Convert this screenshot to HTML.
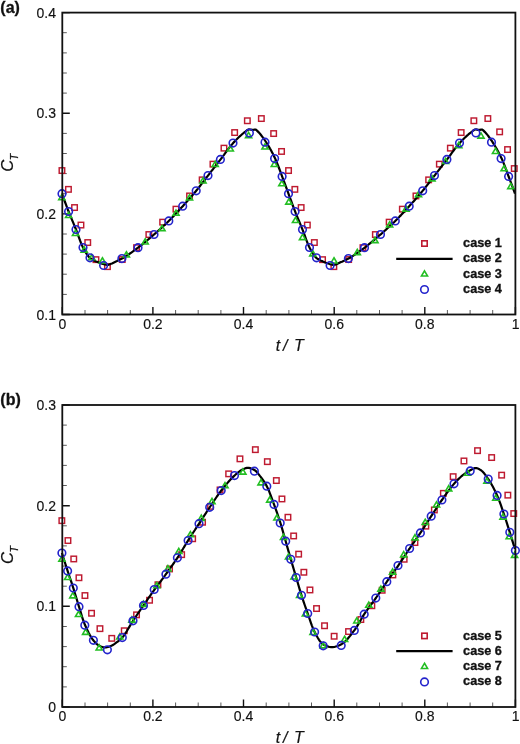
<!DOCTYPE html>
<html><head><meta charset="utf-8"><title>C_T vs t/T</title>
<style>
html,body{margin:0;padding:0;background:#fff}
svg{display:block}
text{font-family:"Liberation Sans",Arial,Helvetica,sans-serif;fill:#111}
.tk{font-size:14px;stroke:#111;stroke-width:0.15px}
.ax{font-size:16px;font-style:italic;stroke:#111;stroke-width:0.2px}
.pl{font-size:16px;font-weight:bold;stroke:#111;stroke-width:0.3px}
.lg{font-size:12px;font-weight:bold;stroke:#111;stroke-width:0.3px}
</style></head><body>
<svg width="520" height="744" viewBox="0 0 520 744">
<rect width="520" height="744" fill="#fff"/>
<clipPath id="ca"><rect x="56.3" y="12.6" width="465.09999999999997" height="301.9"/></clipPath><path d="M62.3 294.4h4.5M62.3 274.2h4.5M62.3 254.1h4.5M62.3 234h4.5M62.3 193.7h4.5M62.3 173.6h4.5M62.3 153.5h4.5M62.3 133.4h4.5M62.3 93.1h4.5M62.3 73h4.5M62.3 52.9h4.5M62.3 32.7h4.5M85 314.5v-4.5M107.6 314.5v-4.5M130.3 314.5v-4.5M175.6 314.5v-4.5M198.2 314.5v-4.5M220.9 314.5v-4.5M266.2 314.5v-4.5M288.9 314.5v-4.5M311.5 314.5v-4.5M356.8 314.5v-4.5M379.5 314.5v-4.5M402.1 314.5v-4.5M447.4 314.5v-4.5M470.1 314.5v-4.5M492.7 314.5v-4.5" stroke="#4a4a4a" stroke-width="0.9" fill="none"/><path d="M62.3 314.5h7.5M62.3 213.9h7.5M62.3 113.2h7.5M62.3 12.6h7.5M62.3 314.5v-7.5M152.9 314.5v-7.5M243.5 314.5v-7.5M334.2 314.5v-7.5M424.8 314.5v-7.5M515.4 314.5v-7.5" stroke="#111" stroke-width="1.4" fill="none"/><g clip-path="url(#ca)"><g fill="none" stroke="#be1a30" stroke-width="1.45"><rect x="59.2" y="167.8" width="5.5" height="5.5"/><rect x="65.7" y="186.6" width="5.5" height="5.5"/><rect x="71.8" y="204.8" width="5.5" height="5.5"/><rect x="78.2" y="222.3" width="5.5" height="5.5"/><rect x="85" y="239.8" width="5.5" height="5.5"/><rect x="93.2" y="256.9" width="5.5" height="5.5"/><rect x="104.7" y="263.9" width="5.5" height="5.5"/><rect x="119.5" y="256.8" width="5.5" height="5.5"/><rect x="133.8" y="244.9" width="5.5" height="5.5"/><rect x="146.1" y="231.8" width="5.5" height="5.5"/><rect x="159.9" y="219.4" width="5.5" height="5.5"/><rect x="173.2" y="206.4" width="5.5" height="5.5"/><rect x="186.8" y="193.2" width="5.5" height="5.5"/><rect x="199.4" y="177.1" width="5.5" height="5.5"/><rect x="210.2" y="161.4" width="5.5" height="5.5"/><rect x="221.2" y="145.4" width="5.5" height="5.5"/><rect x="231.9" y="129.8" width="5.5" height="5.5"/><rect x="244.6" y="118" width="5.5" height="5.5"/><rect x="258.6" y="115.8" width="5.5" height="5.5"/><rect x="270.9" y="130.8" width="5.5" height="5.5"/><rect x="278.8" y="148.7" width="5.5" height="5.5"/><rect x="285.8" y="167.8" width="5.5" height="5.5"/><rect x="292.1" y="186.6" width="5.5" height="5.5"/><rect x="298.4" y="204.8" width="5.5" height="5.5"/><rect x="304.6" y="222.3" width="5.5" height="5.5"/><rect x="311.6" y="239.8" width="5.5" height="5.5"/><rect x="319.8" y="256.9" width="5.5" height="5.5"/><rect x="331.1" y="263.9" width="5.5" height="5.5"/><rect x="345.9" y="256.8" width="5.5" height="5.5"/><rect x="360.2" y="244.9" width="5.5" height="5.5"/><rect x="372.6" y="231.8" width="5.5" height="5.5"/><rect x="386.4" y="219.4" width="5.5" height="5.5"/><rect x="399.6" y="206.4" width="5.5" height="5.5"/><rect x="413.2" y="193.2" width="5.5" height="5.5"/><rect x="425.9" y="177.1" width="5.5" height="5.5"/><rect x="436.6" y="161.4" width="5.5" height="5.5"/><rect x="447.6" y="145.4" width="5.5" height="5.5"/><rect x="458.4" y="129.8" width="5.5" height="5.5"/><rect x="471.1" y="118" width="5.5" height="5.5"/><rect x="485.1" y="115.8" width="5.5" height="5.5"/><rect x="496.9" y="129.1" width="5.5" height="5.5"/><rect x="504.8" y="146.8" width="5.5" height="5.5"/><rect x="511.5" y="165.8" width="5.5" height="5.5"/></g><path d="M62 193.7 L63 196.5 L64 199.3 L65 202 L66 204.7 L67 207.3 L68 210 L69 212.5 L70 215 L71 217.4 L72 219.8 L73 222.2 L74 224.6 L75 227 L76 229.5 L77 232.1 L78 234.8 L79 237.6 L80 240.4 L81 243 L82 245.4 L83 247.5 L84 249.4 L85 251.2 L86 252.9 L87 254.5 L88 255.8 L89 257 L90 258 L91 258.7 L92 259.4 L93 259.9 L94 260.4 L95 260.9 L96 261.4 L97 261.8 L98 262.2 L99 262.6 L100 263 L101 263.3 L102 263.6 L103 263.9 L104 264.2 L105 264.5 L106 264.7 L107 264.9 L108 264.9 L109 264.6 L110 264.2 L111 263.8 L112 263.4 L113 262.9 L114 262.4 L115 261.9 L116 261.4 L117 261 L118 260.5 L119 260.1 L120 259.6 L121 259.1 L122 258.5 L123 258 L124 257.4 L125 256.8 L126 256.2 L127 255.5 L128 254.9 L129 254.2 L130 253.5 L131 252.8 L132 252.1 L133 251.4 L134 250.7 L135 249.9 L136 249.2 L137 248.4 L138 247.7 L139 246.9 L140 246.2 L141 245.4 L142 244.6 L143 243.8 L144 243 L145 242.2 L146 241.4 L147 240.5 L148 239.7 L149 238.8 L150 238 L151 237.1 L152 236.2 L153 235.4 L154 234.5 L155 233.6 L156 232.8 L157 231.9 L158 231 L159 230.1 L160 229.2 L161 228.3 L162 227.4 L163 226.4 L164 225.5 L165 224.6 L166 223.6 L167 222.7 L168 221.7 L169 220.7 L170 219.7 L171 218.7 L172 217.7 L173 216.6 L174 215.6 L175 214.5 L176 213.5 L177 212.4 L178 211.3 L179 210.2 L180 209.2 L181 208.1 L182 207 L183 205.9 L184 204.8 L185 203.7 L186 202.6 L187 201.4 L188 200.3 L189 199.2 L190 198.1 L191 196.9 L192 195.8 L193 194.6 L194 193.4 L195 192.2 L196 191 L197 189.8 L198 188.6 L199 187.3 L200 186 L201 184.7 L202 183.4 L203 182.1 L204 180.8 L205 179.5 L206 178.2 L207 176.9 L208 175.6 L209 174.3 L210 173 L211 171.7 L212 170.4 L213 169.2 L214 167.9 L215 166.6 L216 165.3 L217 164 L218 162.7 L219 161.4 L220 160.1 L221 158.8 L222 157.5 L223 156.1 L224 154.8 L225 153.4 L226 152.1 L227 150.7 L228 149.4 L229 148.1 L230 146.8 L231 145.5 L232 144.4 L233 143.2 L234 142.1 L235 141.1 L236 140 L237 139 L238 138 L239 137 L240 136.1 L241 135.2 L242 134.3 L243 133.5 L244 132.7 L245 132 L246 131.1 L247 130.3 L248 129.7 L249 129.4 L250 129.5 L251 129.7 L252 129.9 L253 129.8 L254 129.7 L255 129.5 L256 129.7 L257 130.6 L258 131.6 L259 132.6 L260 133.8 L261 135 L262 136.3 L263 137.6 L264 139 L265 140.5 L266 142 L267 143.6 L268 145.2 L269 146.8 L270 148.6 L271 150.3 L272 152.2 L273 154.1 L274 156.2 L275 158.3 L276 160.4 L277 162.8 L278 165.3 L279 168 L280 170.7 L281 173.4 L282 176.1 L283 178.8 L284 181.5 L285 184.2 L286 186.9 L287 189.6 L288 192.3 L289 195.1 L290 197.8 L291 200.5 L292 203.3 L293 206 L294 208.6 L295 211.2 L296 213.8 L297 216.2 L298 218.6 L299 221 L300 223.4 L301 225.8 L302 228.3 L303 230.8 L304 233.5 L305 236.2 L306 239 L307 241.7 L308 244.3 L309 246.5 L310 248.4 L311 250.3 L312 252 L313 253.7 L314 255.2 L315 256.5 L316 257.6 L317 258.4 L318 259.1 L319 259.6 L320 260.1 L321 260.7 L322 261.1 L323 261.6 L324 262 L325 262.4 L326 262.8 L327 263.1 L328 263.5 L329 263.8 L330 264.1 L331 264.3 L332 264.6 L333 264.8 L334 264.9 L335 264.7 L336 264.4 L337 264 L338 263.6 L339 263.1 L340 262.6 L341 262.1 L342 261.7 L343 261.2 L344 260.8 L345 260.3 L346 259.8 L347 259.3 L348 258.8 L349 258.3 L350 257.7 L351 257.1 L352 256.5 L353 255.9 L354 255.2 L355 254.5 L356 253.9 L357 253.2 L358 252.5 L359 251.7 L360 251 L361 250.3 L362 249.6 L363 248.8 L364 248.1 L365 247.3 L366 246.6 L367 245.8 L368 245 L369 244.2 L370 243.4 L371 242.6 L372 241.8 L373 240.9 L374 240.1 L375 239.2 L376 238.4 L377 237.5 L378 236.7 L379 235.8 L380 234.9 L381 234.1 L382 233.2 L383 232.3 L384 231.4 L385 230.5 L386 229.6 L387 228.7 L388 227.8 L389 226.9 L390 226 L391 225 L392 224.1 L393 223.1 L394 222.2 L395 221.2 L396 220.2 L397 219.2 L398 218.2 L399 217.2 L400 216.1 L401 215.1 L402 214 L403 212.9 L404 211.9 L405 210.8 L406 209.7 L407 208.6 L408 207.5 L409 206.4 L410 205.3 L411 204.2 L412 203.1 L413 202 L414 200.9 L415 199.8 L416 198.6 L417 197.5 L418 196.3 L419 195.2 L420 194 L421 192.8 L422 191.6 L423 190.4 L424 189.2 L425 188 L426 186.7 L427 185.4 L428 184.1 L429 182.8 L430 181.5 L431 180.2 L432 178.9 L433 177.5 L434 176.2 L435 175 L436 173.7 L437 172.4 L438 171.1 L439 169.8 L440 168.5 L441 167.2 L442 165.9 L443 164.6 L444 163.3 L445 162.1 L446 160.8 L447 159.5 L448 158.2 L449 156.8 L450 155.5 L451 154.1 L452 152.7 L453 151.4 L454 150 L455 148.7 L456 147.4 L457 146.2 L458 144.9 L459 143.8 L460 142.7 L461 141.6 L462 140.5 L463 139.5 L464 138.5 L465 137.5 L466 136.6 L467 135.6 L468 134.8 L469 133.9 L470 133.1 L471 132.4 L472 131.6 L473 130.7 L474 130 L475 129.5 L476 129.4 L477 129.6 L478 129.8 L479 129.9 L480 129.8 L481 129.6 L482 129.5 L483 130.1 L484 131.1 L485 132.1 L486 133.2 L487 134.4 L488 135.6 L489 137 L490 138.3 L491 139.8 L492 141.2 L493 142.8 L494 144.4 L495 146 L496 147.7 L497 149.4 L498 151.3 L499 153.2 L500 155.1 L501 157.2 L502 159.3 L503 161.6 L504 164.1 L505 166.7 L506 169.3 L507 172.1 L508 174.8 L509 177.5 L510 180.1 L511 182.8 L512 185.5 L513 188.2 L514 191 L515 193.7" fill="none" stroke="#000" stroke-width="2.2" stroke-linejoin="round"/><g fill="none" stroke="#22be22" stroke-width="1.6"><path d="M61.8 194.55L64.85 199.75H58.75Z"/><path d="M68.6 212.35L71.65 217.55H65.55Z"/><path d="M75.5 230.25L78.55 235.45H72.45Z"/><path d="M84.2 246.95L87.25 252.15H81.15Z"/><path d="M91.8 254.55L94.85 259.75H88.75Z"/><path d="M102.4 257.75L105.45 262.95H99.35Z"/><path d="M126.4 251.75L129.45 256.95H123.35Z"/><path d="M145.2 238.75L148.25 243.95H142.15Z"/><path d="M162 225.45L165.05 230.65H158.95Z"/><path d="M176 210.05L179.05 215.25H172.95Z"/><path d="M189.5 194.75L192.55 199.95H186.45Z"/><path d="M203 177.75L206.05 182.95H199.95Z"/><path d="M215.2 161.25L218.25 166.45H212.15Z"/><path d="M230.3 145.75L233.35 150.95H227.25Z"/><path d="M248.6 132.45L251.65 137.65H245.55Z"/><path d="M265 143.85L268.05 149.05H261.95Z"/><path d="M274.3 161.25L277.35 166.45H271.25Z"/><path d="M281.8 180.55L284.85 185.75H278.75Z"/><path d="M288.8 198.95L291.85 204.15H285.75Z"/><path d="M295.5 217.35L298.55 222.55H292.45Z"/><path d="M302.5 234.45L305.55 239.65H299.45Z"/><path d="M312.8 250.65L315.85 255.85H309.75Z"/><path d="M334 257.75L337.05 262.95H330.95Z"/><path d="M357.3 249.45L360.35 254.65H354.25Z"/><path d="M375 237.45L378.05 242.65H371.95Z"/><path d="M389.6 221.75L392.65 226.95H386.55Z"/><path d="M406 205.95L409.05 211.15H402.95Z"/><path d="M418.5 191.55L421.55 196.75H415.45Z"/><path d="M432 175.65L435.05 180.85H428.95Z"/><path d="M445.6 158.35L448.65 163.55H442.55Z"/><path d="M458.8 142.45L461.85 147.65H455.75Z"/><path d="M481 132.95L484.05 138.15H477.95Z"/><path d="M495.5 148.25L498.55 153.45H492.45Z"/><path d="M504.1 165.55L507.15 170.75H501.05Z"/><path d="M510.8 183.45L513.85 188.65H507.75Z"/></g><g fill="none" stroke="#2424cc" stroke-width="1.6"><circle cx="62" cy="193.7" r="3.8"/><circle cx="68.6" cy="211.5" r="3.8"/><circle cx="76" cy="229.5" r="3.8"/><circle cx="83" cy="247.5" r="3.8"/><circle cx="90" cy="257.8" r="3.8"/><circle cx="103.6" cy="265.5" r="3.8"/><circle cx="121.9" cy="258.6" r="3.8"/><circle cx="138" cy="247.7" r="3.8"/><circle cx="154" cy="234.5" r="3.8"/><circle cx="168.8" cy="220.9" r="3.8"/><circle cx="182.7" cy="206.2" r="3.8"/><circle cx="196.2" cy="190.8" r="3.8"/><circle cx="208" cy="175.6" r="3.8"/><circle cx="220.4" cy="159.4" r="3.8"/><circle cx="233" cy="143.1" r="3.8"/><circle cx="249.4" cy="133" r="3.8"/><circle cx="265" cy="142.2" r="3.8"/><circle cx="274.6" cy="158.6" r="3.8"/><circle cx="282.1" cy="176.4" r="3.8"/><circle cx="288.5" cy="193.7" r="3.8"/><circle cx="295.1" cy="211.5" r="3.8"/><circle cx="302.5" cy="229.5" r="3.8"/><circle cx="309.5" cy="247.5" r="3.8"/><circle cx="316.5" cy="257.8" r="3.8"/><circle cx="330.1" cy="265.5" r="3.8"/><circle cx="348.4" cy="258.6" r="3.8"/><circle cx="364.5" cy="247.7" r="3.8"/><circle cx="380.5" cy="234.5" r="3.8"/><circle cx="395.3" cy="220.9" r="3.8"/><circle cx="409.2" cy="206.2" r="3.8"/><circle cx="422.7" cy="190.8" r="3.8"/><circle cx="434.5" cy="175.6" r="3.8"/><circle cx="446.9" cy="159.4" r="3.8"/><circle cx="459.5" cy="143.1" r="3.8"/><circle cx="475.9" cy="133" r="3.8"/><circle cx="491.5" cy="142.2" r="3.8"/><circle cx="501.1" cy="158.6" r="3.8"/><circle cx="508.6" cy="176.4" r="3.8"/></g></g><rect x="62.3" y="12.6" width="453.1" height="301.9" fill="none" stroke="#111" stroke-width="1.8"/><text x="56" y="319.6" text-anchor="end" class="tk">0.1</text><text x="56" y="219" text-anchor="end" class="tk">0.2</text><text x="56" y="118.3" text-anchor="end" class="tk">0.3</text><text x="56" y="17.7" text-anchor="end" class="tk">0.4</text><text x="62.3" y="328.5" text-anchor="middle" class="tk">0</text><text x="152.9" y="328.5" text-anchor="middle" class="tk">0.2</text><text x="243.5" y="328.5" text-anchor="middle" class="tk">0.4</text><text x="334.2" y="328.5" text-anchor="middle" class="tk">0.6</text><text x="424.8" y="328.5" text-anchor="middle" class="tk">0.8</text><text x="515.7" y="328.5" text-anchor="middle" class="tk">1</text><text transform="translate(13.45 171.7) rotate(-90)" class="ax" style="font-size:16.6px">C<tspan dx="-0.5" dy="5" style="font-size:10.6px">T</tspan></text><text x="275.7" y="351.4" class="ax">t<tspan dx="-1.7"> /</tspan><tspan dx="2.2"> T</tspan></text><text x="0.3" y="12.7" class="pl">(a)</text><g fill="none" stroke-width="1.6"><rect x="421.8" y="240.8" width="5.4" height="5.4" stroke="#be1a30"/><g stroke="#22be22"><path d="M424.5 270.85L427.55 276.05H421.45Z"/></g><circle cx="424.5" cy="289.5" r="3.8" stroke="#2424cc"/></g><path d="M396.2 258.8H452.6" stroke="#000" stroke-width="2.2"/><text x="463.1" y="247.4" class="lg" textLength="38.8" lengthAdjust="spacingAndGlyphs">case 1</text><text x="463.1" y="262.4" class="lg" textLength="38.8" lengthAdjust="spacingAndGlyphs">case 2</text><text x="463.1" y="277.5" class="lg" textLength="38.8" lengthAdjust="spacingAndGlyphs">case 3</text><text x="463.1" y="292.6" class="lg" textLength="38.8" lengthAdjust="spacingAndGlyphs">case 4</text><clipPath id="cb"><rect x="56.3" y="405.0" width="465.09999999999997" height="302.0"/></clipPath><path d="M62.3 686.9h4.5M62.3 666.7h4.5M62.3 646.6h4.5M62.3 626.5h4.5M62.3 586.2h4.5M62.3 566.1h4.5M62.3 545.9h4.5M62.3 525.8h4.5M62.3 485.5h4.5M62.3 465.4h4.5M62.3 445.3h4.5M62.3 425.1h4.5M85 707v-4.5M107.6 707v-4.5M130.3 707v-4.5M175.6 707v-4.5M198.2 707v-4.5M220.9 707v-4.5M266.2 707v-4.5M288.9 707v-4.5M311.5 707v-4.5M356.8 707v-4.5M379.5 707v-4.5M402.1 707v-4.5M447.4 707v-4.5M470.1 707v-4.5M492.7 707v-4.5" stroke="#4a4a4a" stroke-width="0.9" fill="none"/><path d="M62.3 707h7.5M62.3 606.3h7.5M62.3 505.7h7.5M62.3 405h7.5M62.3 707v-7.5M152.9 707v-7.5M243.5 707v-7.5M334.2 707v-7.5M424.8 707v-7.5M515.4 707v-7.5" stroke="#111" stroke-width="1.4" fill="none"/><g clip-path="url(#cb)"><g fill="none" stroke="#be1a30" stroke-width="1.45"><rect x="59.1" y="517.9" width="5.5" height="5.5"/><rect x="65.2" y="537.8" width="5.5" height="5.5"/><rect x="71" y="556.2" width="5.5" height="5.5"/><rect x="76.2" y="575" width="5.5" height="5.5"/><rect x="82.2" y="592.8" width="5.5" height="5.5"/><rect x="88.8" y="610.5" width="5.5" height="5.5"/><rect x="97.2" y="625.9" width="5.5" height="5.5"/><rect x="109" y="635.6" width="5.5" height="5.5"/><rect x="121.5" y="628" width="5.5" height="5.5"/><rect x="133.8" y="612.1" width="5.5" height="5.5"/><rect x="146.8" y="597.5" width="5.5" height="5.5"/><rect x="155.2" y="582" width="5.5" height="5.5"/><rect x="166.8" y="566.2" width="5.5" height="5.5"/><rect x="178.9" y="551.9" width="5.5" height="5.5"/><rect x="189.9" y="536" width="5.5" height="5.5"/><rect x="199.8" y="519.5" width="5.5" height="5.5"/><rect x="207.8" y="503.6" width="5.5" height="5.5"/><rect x="217.3" y="487.2" width="5.5" height="5.5"/><rect x="225.9" y="471.1" width="5.5" height="5.5"/><rect x="237.2" y="456.1" width="5.5" height="5.5"/><rect x="252.6" y="446.9" width="5.5" height="5.5"/><rect x="264.6" y="458.9" width="5.5" height="5.5"/><rect x="273.6" y="477.8" width="5.5" height="5.5"/><rect x="279.2" y="496.2" width="5.5" height="5.5"/><rect x="285.2" y="514.5" width="5.5" height="5.5"/><rect x="290.9" y="533.2" width="5.5" height="5.5"/><rect x="295.9" y="551.4" width="5.5" height="5.5"/><rect x="301.1" y="569.5" width="5.5" height="5.5"/><rect x="307.2" y="587.2" width="5.5" height="5.5"/><rect x="313.8" y="605.8" width="5.5" height="5.5"/><rect x="321.8" y="623" width="5.5" height="5.5"/><rect x="331.4" y="633.5" width="5.5" height="5.5"/><rect x="345.8" y="628.8" width="5.5" height="5.5"/><rect x="358.1" y="616.8" width="5.5" height="5.5"/><rect x="369.1" y="603" width="5.5" height="5.5"/><rect x="379.4" y="587.5" width="5.5" height="5.5"/><rect x="390.1" y="572.2" width="5.5" height="5.5"/><rect x="401.4" y="556.5" width="5.5" height="5.5"/><rect x="412.2" y="539.8" width="5.5" height="5.5"/><rect x="423.1" y="523.4" width="5.5" height="5.5"/><rect x="431.6" y="507.2" width="5.5" height="5.5"/><rect x="440.6" y="490.6" width="5.5" height="5.5"/><rect x="450.4" y="473.9" width="5.5" height="5.5"/><rect x="461.2" y="458.2" width="5.5" height="5.5"/><rect x="474.8" y="447.9" width="5.5" height="5.5"/><rect x="488.9" y="454.8" width="5.5" height="5.5"/><rect x="498.9" y="472.4" width="5.5" height="5.5"/><rect x="505.1" y="492.4" width="5.5" height="5.5"/><rect x="511" y="510.8" width="5.5" height="5.5"/></g><path d="M61.9 553 L62.9 556.2 L63.9 559.4 L64.9 562.5 L65.9 565.6 L66.9 568.7 L67.9 571.8 L68.9 574.8 L69.9 577.8 L70.9 580.7 L71.9 583.7 L72.9 586.8 L73.9 589.9 L74.9 593.2 L75.9 596.5 L76.9 599.8 L77.9 603.2 L78.9 606.4 L79.9 609.6 L80.9 612.9 L81.9 616.2 L82.9 619.3 L83.9 622.2 L84.9 624.8 L85.9 627 L86.9 629.2 L87.9 631.3 L88.9 633.3 L89.9 635.1 L90.9 636.8 L91.9 638.4 L92.9 639.8 L93.9 641 L94.9 642.1 L95.9 643.1 L96.9 644.1 L97.9 644.9 L98.9 645.5 L99.9 645.9 L100.9 646.4 L101.9 646.8 L102.9 647.1 L103.9 647.3 L104.9 647.4 L105.9 647.4 L106.9 647.2 L107.9 647 L108.9 646.7 L109.9 646.4 L110.9 646 L111.9 645.6 L112.9 645 L113.9 644.4 L114.9 643.7 L115.9 642.9 L116.9 642.2 L117.9 641.5 L118.9 640.7 L119.9 639.8 L120.9 638.9 L121.9 637.9 L122.9 636.8 L123.9 635.6 L124.9 634.2 L125.9 632.6 L126.9 631 L127.9 629.3 L128.9 627.6 L129.9 625.9 L130.9 624.2 L131.9 622.5 L132.9 621 L133.9 619.4 L134.9 617.9 L135.9 616.5 L136.9 615 L137.9 613.5 L138.9 612.1 L139.9 610.6 L140.9 609.2 L141.9 607.7 L142.9 606.3 L143.9 604.8 L144.9 603.4 L145.9 601.9 L146.9 600.5 L147.9 599 L148.9 597.5 L149.9 596.1 L150.9 594.7 L151.9 593.2 L152.9 591.8 L153.9 590.4 L154.9 589 L155.9 587.7 L156.9 586.3 L157.9 585 L158.9 583.6 L159.9 582.3 L160.9 581 L161.9 579.6 L162.9 578.3 L163.9 576.9 L164.9 575.6 L165.9 574.2 L166.9 572.8 L167.9 571.4 L168.9 570 L169.9 568.6 L170.9 567.2 L171.9 565.8 L172.9 564.4 L173.9 563 L174.9 561.5 L175.9 560 L176.9 558.6 L177.9 557 L178.9 555.5 L179.9 553.9 L180.9 552.3 L181.9 550.6 L182.9 549 L183.9 547.3 L184.9 545.7 L185.9 544 L186.9 542.4 L187.9 540.8 L188.9 539.2 L189.9 537.7 L190.9 536.1 L191.9 534.6 L192.9 533 L193.9 531.5 L194.9 530 L195.9 528.4 L196.9 526.9 L197.9 525.4 L198.9 523.9 L199.9 522.3 L200.9 520.8 L201.9 519.2 L202.9 517.7 L203.9 516.1 L204.9 514.6 L205.9 513.1 L206.9 511.5 L207.9 510 L208.9 508.5 L209.9 507 L210.9 505.5 L211.9 504 L212.9 502.5 L213.9 501 L214.9 499.5 L215.9 498 L216.9 496.5 L217.9 495.1 L218.9 493.7 L219.9 492.3 L220.9 491 L221.9 489.7 L222.9 488.5 L223.9 487.2 L224.9 486 L225.9 484.8 L226.9 483.6 L227.9 482.4 L228.9 481.3 L229.9 480.2 L230.9 479.1 L231.9 478.1 L232.9 477.1 L233.9 476.1 L234.9 475.2 L235.9 474.3 L236.9 473.4 L237.9 472.6 L238.9 471.8 L239.9 471 L240.9 470.4 L241.9 469.8 L242.9 469.4 L243.9 468.9 L244.9 468.5 L245.9 468.1 L246.9 467.9 L247.9 467.8 L248.9 467.9 L249.9 468.1 L250.9 468.4 L251.9 468.8 L252.9 469.2 L253.9 469.7 L254.9 470.3 L255.9 471.1 L256.9 472.2 L257.9 473.3 L258.9 474.6 L259.9 475.9 L260.9 477.1 L261.9 478.5 L262.9 479.8 L263.9 481.3 L264.9 482.9 L265.9 484.6 L266.9 486.4 L267.9 488.4 L268.9 490.7 L269.9 493.3 L270.9 495.9 L271.9 498.6 L272.9 501.4 L273.9 504.1 L274.9 506.8 L275.9 509.6 L276.9 512.4 L277.9 515.3 L278.9 518.3 L279.9 521.3 L280.9 524.5 L281.9 527.9 L282.9 531.4 L283.9 535 L284.9 538.5 L285.9 542 L286.9 545.6 L287.9 549.1 L288.9 552.6 L289.9 556.1 L290.9 559.5 L291.9 563 L292.9 566.4 L293.9 569.7 L294.9 573.1 L295.9 576.5 L296.9 579.9 L297.9 583.3 L298.9 586.7 L299.9 590.1 L300.9 593.4 L301.9 596.5 L302.9 599.6 L303.9 602.6 L304.9 605.5 L305.9 608.4 L306.9 611.2 L307.9 614.1 L308.9 617 L309.9 619.9 L310.9 622.8 L311.9 625.6 L312.9 628.2 L313.9 630.6 L314.9 632.6 L315.9 634.4 L316.9 636.3 L317.9 638 L318.9 639.6 L319.9 641.1 L320.9 642.3 L321.9 643.4 L322.9 644.1 L323.9 644.7 L324.9 645.2 L325.9 645.6 L326.9 646.1 L327.9 646.4 L328.9 646.8 L329.9 647 L330.9 647.1 L331.9 647.2 L332.9 647.2 L333.9 647 L334.9 646.8 L335.9 646.5 L336.9 646.2 L337.9 645.8 L338.9 645.4 L339.9 644.9 L340.9 644.4 L341.9 643.9 L342.9 643.3 L343.9 642.5 L344.9 641.7 L345.9 640.7 L346.9 639.7 L347.9 638.5 L348.9 637.3 L349.9 636.1 L350.9 634.8 L351.9 633.5 L352.9 632.2 L353.9 630.9 L354.9 629.6 L355.9 628.1 L356.9 626.6 L357.9 624.9 L358.9 623.2 L359.9 621.4 L360.9 619.7 L361.9 617.9 L362.9 616.2 L363.9 614.7 L364.9 613.2 L365.9 611.7 L366.9 610.3 L367.9 608.9 L368.9 607.5 L369.9 606.2 L370.9 604.8 L371.9 603.5 L372.9 602.1 L373.9 600.8 L374.9 599.4 L375.9 598 L376.9 596.5 L377.9 595 L378.9 593.6 L379.9 592.1 L380.9 590.6 L381.9 589.1 L382.9 587.6 L383.9 586.1 L384.9 584.6 L385.9 583.1 L386.9 581.7 L387.9 580.2 L388.9 578.8 L389.9 577.4 L390.9 576 L391.9 574.6 L392.9 573.2 L393.9 571.8 L394.9 570.4 L395.9 569 L396.9 567.6 L397.9 566.1 L398.9 564.7 L399.9 563.2 L400.9 561.7 L401.9 560.2 L402.9 558.7 L403.9 557.1 L404.9 555.6 L405.9 554.1 L406.9 552.5 L407.9 551 L408.9 549.5 L409.9 548.1 L410.9 546.6 L411.9 545.2 L412.9 543.7 L413.9 542.3 L414.9 540.9 L415.9 539.4 L416.9 538 L417.9 536.6 L418.9 535.1 L419.9 533.6 L420.9 532.2 L421.9 530.6 L422.9 529.1 L423.9 527.6 L424.9 526 L425.9 524.4 L426.9 522.9 L427.9 521.3 L428.9 519.8 L429.9 518.2 L430.9 516.7 L431.9 515.1 L432.9 513.6 L433.9 512 L434.9 510.5 L435.9 509 L436.9 507.4 L437.9 505.9 L438.9 504.4 L439.9 502.9 L440.9 501.4 L441.9 500 L442.9 498.6 L443.9 497.1 L444.9 495.7 L445.9 494.3 L446.9 492.9 L447.9 491.5 L448.9 490.2 L449.9 488.8 L450.9 487.5 L451.9 486.3 L452.9 485.1 L453.9 483.9 L454.9 482.8 L455.9 481.7 L456.9 480.6 L457.9 479.6 L458.9 478.6 L459.9 477.7 L460.9 476.8 L461.9 475.9 L462.9 475.1 L463.9 474.3 L464.9 473.6 L465.9 472.9 L466.9 472.2 L467.9 471.6 L468.9 471 L469.9 470.5 L470.9 469.9 L471.9 469.4 L472.9 468.8 L473.9 468.4 L474.9 468.1 L475.9 468 L476.9 468.2 L477.9 468.6 L478.9 469 L479.9 469.6 L480.9 470.2 L481.9 471 L482.9 471.9 L483.9 473 L484.9 474.3 L485.9 475.7 L486.9 477.1 L487.9 478.6 L488.9 480 L489.9 481.6 L490.9 483.2 L491.9 485 L492.9 486.8 L493.9 488.7 L494.9 490.7 L495.9 492.8 L496.9 495 L497.9 497.3 L498.9 499.8 L499.9 502.4 L500.9 505.2 L501.9 508.1 L502.9 511.1 L503.9 514 L504.9 517 L505.9 520 L506.9 523.1 L507.9 526.3 L508.9 529.4 L509.9 532.6 L510.9 535.8 L511.9 539.1 L512.9 542.3 L513.9 545.6 L514.9 548.9" fill="none" stroke="#000" stroke-width="2.2" stroke-linejoin="round"/><g fill="none" stroke="#22be22" stroke-width="1.6"><path d="M61.9 556.05L64.95 561.25H58.85Z"/><path d="M67.6 574.35L70.65 579.55H64.55Z"/><path d="M72.8 592.65L75.85 597.85H69.75Z"/><path d="M78.5 611.35L81.55 616.55H75.45Z"/><path d="M85.6 629.15L88.65 634.35H82.55Z"/><path d="M99.2 644.75L102.25 649.95H96.15Z"/><path d="M119.8 633.85L122.85 639.05H116.75Z"/><path d="M131.9 616.95L134.95 622.15H128.85Z"/><path d="M143.5 601.15L146.55 606.35H140.45Z"/><path d="M156.8 582.55L159.85 587.75H153.75Z"/><path d="M167.9 565.65L170.95 570.85H164.85Z"/><path d="M178.8 548.35L181.85 553.55H175.75Z"/><path d="M190.4 531.55L193.45 536.75H187.35Z"/><path d="M201.3 515.15L204.35 520.35H198.25Z"/><path d="M212 498.45L215.05 503.65H208.95Z"/><path d="M225 482.55L228.05 487.75H221.95Z"/><path d="M242.9 468.95L245.95 474.15H239.85Z"/><path d="M261 479.65L264.05 484.85H257.95Z"/><path d="M269.7 496.95L272.75 502.15H266.65Z"/><path d="M276.9 514.85L279.95 520.05H273.85Z"/><path d="M283.5 534.25L286.55 539.45H280.45Z"/><path d="M288.5 553.75L291.55 558.95H285.45Z"/><path d="M294 573.75L297.05 578.95H290.95Z"/><path d="M299.6 592.35L302.65 597.55H296.55Z"/><path d="M305.4 610.85L308.45 616.05H302.35Z"/><path d="M313 629.25L316.05 634.45H309.95Z"/><path d="M323.2 642.65L326.25 647.85H320.15Z"/><path d="M344.6 636.25L347.65 641.45H341.55Z"/><path d="M356.8 617.75L359.85 622.95H353.75Z"/><path d="M368.8 602.05L371.85 607.25H365.75Z"/><path d="M380.9 586.05L383.95 591.25H377.85Z"/><path d="M392.6 568.95L395.65 574.15H389.55Z"/><path d="M403.7 551.65L406.75 556.85H400.65Z"/><path d="M415 534.65L418.05 539.85H411.95Z"/><path d="M425.2 519.25L428.25 524.45H422.15Z"/><path d="M436.5 501.75L439.55 506.95H433.45Z"/><path d="M448.7 485.65L451.75 490.85H445.65Z"/><path d="M467.5 470.05L470.55 475.25H464.45Z"/><path d="M486.9 478.05L489.95 483.25H483.85Z"/><path d="M495.8 495.05L498.85 500.25H492.75Z"/><path d="M503 513.95L506.05 519.15H499.95Z"/><path d="M509.2 533.55L512.25 538.75H506.15Z"/><path d="M514.6 552.15L517.65 557.35H511.55Z"/></g><g fill="none" stroke="#2424cc" stroke-width="1.6"><circle cx="61.9" cy="553" r="3.8"/><circle cx="67.6" cy="570.9" r="3.8"/><circle cx="73.3" cy="588" r="3.8"/><circle cx="79" cy="606.7" r="3.8"/><circle cx="84.8" cy="625.2" r="3.8"/><circle cx="93.4" cy="640.3" r="3.8"/><circle cx="107.4" cy="649.8" r="3.8"/><circle cx="122.3" cy="637.6" r="3.8"/><circle cx="133" cy="620.8" r="3.8"/><circle cx="143.5" cy="605.4" r="3.8"/><circle cx="154.2" cy="589.5" r="3.8"/><circle cx="165.9" cy="574.2" r="3.8"/><circle cx="177.4" cy="557.8" r="3.8"/><circle cx="188.1" cy="540.5" r="3.8"/><circle cx="199" cy="523.7" r="3.8"/><circle cx="209.7" cy="507.3" r="3.8"/><circle cx="221.2" cy="490.6" r="3.8"/><circle cx="234.5" cy="475.6" r="3.8"/><circle cx="254.4" cy="471.2" r="3.8"/><circle cx="266.8" cy="486.2" r="3.8"/><circle cx="274" cy="504.4" r="3.8"/><circle cx="280.2" cy="523" r="3.8"/><circle cx="285.7" cy="541.2" r="3.8"/><circle cx="290.8" cy="559.3" r="3.8"/><circle cx="296.2" cy="577.5" r="3.8"/><circle cx="301.5" cy="595.3" r="3.8"/><circle cx="307.7" cy="613.5" r="3.8"/><circle cx="314.6" cy="632" r="3.8"/><circle cx="323.2" cy="645.8" r="3.8"/><circle cx="341.2" cy="645.4" r="3.8"/><circle cx="354.3" cy="630.4" r="3.8"/><circle cx="364.2" cy="614.2" r="3.8"/><circle cx="375.8" cy="598.1" r="3.8"/><circle cx="386.8" cy="581.7" r="3.8"/><circle cx="398" cy="565.5" r="3.8"/><circle cx="409.6" cy="548.5" r="3.8"/><circle cx="420.4" cy="532.9" r="3.8"/><circle cx="431.2" cy="516.2" r="3.8"/><circle cx="441.9" cy="500" r="3.8"/><circle cx="454" cy="483.8" r="3.8"/><circle cx="470.2" cy="470.9" r="3.8"/><circle cx="488.2" cy="479" r="3.8"/><circle cx="497.1" cy="495.4" r="3.8"/><circle cx="503.9" cy="514" r="3.8"/><circle cx="509.8" cy="532.3" r="3.8"/><circle cx="515.4" cy="550.6" r="3.8"/></g></g><rect x="62.3" y="405" width="453.1" height="302" fill="none" stroke="#111" stroke-width="1.8"/><text x="56" y="712.1" text-anchor="end" class="tk">0</text><text x="56" y="611.4" text-anchor="end" class="tk">0.1</text><text x="56" y="510.8" text-anchor="end" class="tk">0.2</text><text x="56" y="410.1" text-anchor="end" class="tk">0.3</text><text x="62.3" y="721" text-anchor="middle" class="tk">0</text><text x="152.9" y="721" text-anchor="middle" class="tk">0.2</text><text x="243.5" y="721" text-anchor="middle" class="tk">0.4</text><text x="334.2" y="721" text-anchor="middle" class="tk">0.6</text><text x="424.8" y="721" text-anchor="middle" class="tk">0.8</text><text x="515.7" y="721" text-anchor="middle" class="tk">1</text><text transform="translate(13.45 563.9) rotate(-90)" class="ax" style="font-size:16.6px">C<tspan dx="-0.5" dy="5" style="font-size:10.6px">T</tspan></text><text x="275.7" y="742.9" class="ax">t<tspan dx="-1.7"> /</tspan><tspan dx="2.2"> T</tspan></text><text x="0.3" y="404.7" class="pl">(b)</text><g fill="none" stroke-width="1.6"><rect x="421.8" y="633.2" width="5.4" height="5.4" stroke="#be1a30"/><g stroke="#22be22"><path d="M424.5 663.25L427.55 668.45H421.45Z"/></g><circle cx="424.5" cy="681.9" r="3.8" stroke="#2424cc"/></g><path d="M396.2 651.2H452.6" stroke="#000" stroke-width="2.2"/><text x="463.1" y="639.8" class="lg" textLength="38.8" lengthAdjust="spacingAndGlyphs">case 5</text><text x="463.1" y="654.8" class="lg" textLength="38.8" lengthAdjust="spacingAndGlyphs">case 6</text><text x="463.1" y="669.9" class="lg" textLength="38.8" lengthAdjust="spacingAndGlyphs">case 7</text><text x="463.1" y="684.9" class="lg" textLength="38.8" lengthAdjust="spacingAndGlyphs">case 8</text>
</svg>
</body></html>
